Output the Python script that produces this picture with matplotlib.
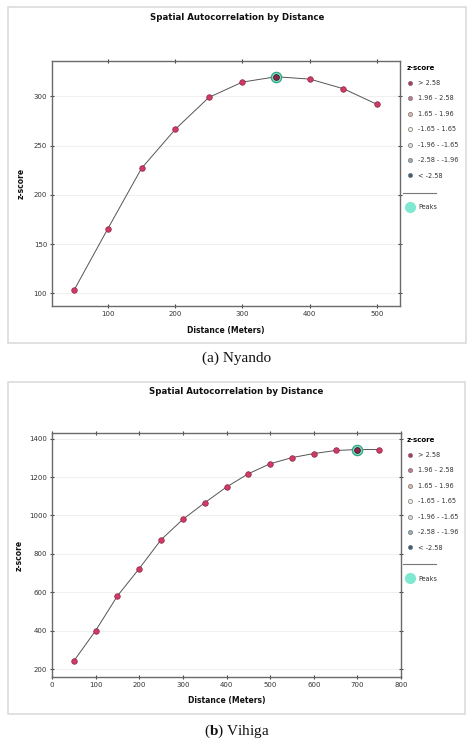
import matplotlib
matplotlib.use("Agg")
import matplotlib.pyplot as plt
from matplotlib.lines import Line2D
from matplotlib.patches import Rectangle

plt.rcParams["mathtext.fontset"] = "custom"
plt.rcParams["mathtext.rm"] = "Liberation Serif"
plt.rcParams["mathtext.bf"] = "Liberation Serif:bold"

# data
nyando_dist = [50, 100, 150, 200, 250, 300, 350, 400, 450, 500]
nyando_z = [103.4, 165.6, 226.9, 266.5, 299.0, 314.6, 320.0, 317.6, 307.8, 291.9]
nyando_peak = 350

vihiga_dist = [50, 100, 150, 200, 250, 300, 350, 400, 450, 500, 550, 600, 650, 700, 750]
vihiga_z = [243, 401, 582, 724, 874, 980, 1066, 1148, 1217, 1269, 1301, 1322, 1338, 1343, 1343]
vihiga_peak = 700

class_labels = ["> 2.58", "1.96 - 2.58", "1.65 - 1.96", "-1.65 - 1.65",
                "-1.96 - -1.65", "-2.58 - -1.96", "< -2.58"]
class_colors = ["#b8365c", "#c27a8a", "#d8b8a8", "#f4eee0", "#d4dde4", "#98b0bc", "#3e5e7a"]

W, H = 474, 744
fig = plt.figure(figsize=(W / 100, H / 100), dpi=100)


def fx(px):
    return px / W


def fy(py):
    return 1 - py / H


def panel(box, axbox, dist, z, peak, xlim, ylim, xticks, yticks,
          title_y, ylab_x, xlab_y, cap_y, caption, sep_y, peaks_y):
    x0, y0, x1, y1 = box
    fig.patches.append(Rectangle((fx(x0), fy(y1)), fx(x1 - x0), (y1 - y0) / H,
                                 transform=fig.transFigure, fill=False,
                                 edgecolor="#dcdcdc", lw=1.2))
    l, t, r, b = axbox
    ax = fig.add_axes([fx(l), fy(b), fx(r - l), (b - t) / H])
    ax.plot(dist, z, color="#555555", lw=0.7, zorder=2)
    pi = dist.index(peak)
    ax.plot([peak], [z[pi]], "o", ms=7.5, mfc="#6fe0c0", mec="#2f9e82", mew=0.8, zorder=3)
    ax.plot(dist, z, "o", ms=4, mfc="#d23a66", mec="#8a2444", mew=0.5, zorder=4)
    ax.plot([peak], [z[pi]], "o", ms=4, mfc="#8a2a48", mec="#4a1a2a", mew=0.5, zorder=5)
    ax.set_xlim(*xlim)
    ax.set_ylim(*ylim)
    ax.set_xticks(xticks)
    ax.set_yticks(yticks)
    ax.grid(axis="y", color="#f0f0f0", lw=0.8)
    ax.set_axisbelow(True)
    for s in ax.spines.values():
        s.set_color("#6a6a6a")
        s.set_linewidth(1.0)
    ax.tick_params(direction="inout", length=3, width=0.8, color="#444444",
                   labelsize=5, labelcolor="#333333", pad=2,
                   top=True, right=True)

    # z-score class legend
    lx = (407 - l) / (r - l)
    handles = [Line2D([], [], ls="none", marker="o", ms=3, mfc=c, mec="#777777", mew=0.5)
               for c in class_colors]
    leg = ax.legend(handles, class_labels, title="z-score", loc="upper left",
                    bbox_to_anchor=(lx, 1 - 3.5 / (b - t)), frameon=False, fontsize=4.7,
                    title_fontproperties={"size": 5, "weight": "bold"},
                    labelspacing=1.45, handletextpad=0.95, handlelength=0.8,
                    borderaxespad=0, borderpad=0, labelcolor="#333333")
    leg._legend_box.align = "left"
    ax.add_artist(leg)

    # separator and peaks entry
    ya = 1 - (sep_y - t) / (b - t)
    ax.add_line(Line2D([(403 - l) / (r - l), (436 - l) / (r - l)], [ya, ya],
                       transform=ax.transAxes, clip_on=False, color="#777777", lw=0.8))
    peak_h = [Line2D([], [], ls="none", marker="o", ms=7, mfc="#7fe8d0", mec="#7fe8d0")]
    ax.legend(peak_h, ["Peaks"], loc="center left",
              bbox_to_anchor=(lx, 1 - (peaks_y - t) / (b - t)),
              frameon=False, fontsize=4.7, handletextpad=0.95, handlelength=0.8,
              borderaxespad=0, borderpad=0, labelcolor="#333333")

    fig.text(fx((x0 + x1) / 2), fy(title_y), "Spatial Autocorrelation by Distance",
             ha="center", va="center", fontsize=6.2, fontweight="bold", color="#111111")
    fig.text(fx(ylab_x), fy((t + b) / 2), "z-score", rotation=90, ha="center", va="center",
             fontsize=5.5, fontweight="bold", color="#111111")
    fig.text(fx((l + r) / 2), fy(xlab_y), "Distance (Meters)", ha="center", va="center",
             fontsize=5.5, fontweight="bold", color="#111111")
    fig.text(0.5, fy(cap_y), caption, ha="center", va="center", fontsize=11,
             family=["Liberation Serif", "DejaVu Serif"], color="#111111")
    return ax


panel((8, 7, 466, 343), (52, 61, 400, 306), nyando_dist, nyando_z, nyando_peak,
      (17, 534), (87, 336), [100, 200, 300, 400, 500], [100, 150, 200, 250, 300],
      18, 21, 330, 358, "(a) Nyando", 192.7, 207)
panel((8, 382, 465, 714), (52, 433, 401, 677), vihiga_dist, vihiga_z, vihiga_peak,
      (0, 800), (160, 1429), list(range(0, 801, 100)), list(range(200, 1401, 200)),
      391, 19, 701, 731, r"($\mathbf{b}$) Vihiga", 564, 578.6)

fig.savefig("out.png", dpi=100)
